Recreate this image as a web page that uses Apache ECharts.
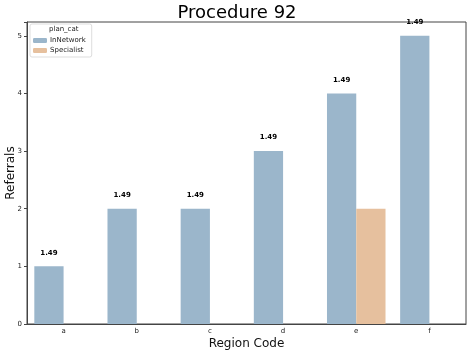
<!DOCTYPE html>
<html>
<head>
<meta charset="utf-8">
<script src="https://cdn.jsdelivr.net/npm/echarts@6/dist/echarts.min.js"></script>
<style>
  html, body { margin: 0; padding: 0; background: #fff; }
  #chart { width: 474px; height: 353px; }
</style>
</head>
<body>
<div id="chart"></div>
<script>
// data
var regions = ["a", "b", "c", "d", "e", "f"];
var inNetwork = [1, 2, 2, 3, 4, 5];
var specialist = [null, null, null, null, 2, null];
var barLabels = ["1.49", "1.49", "1.49", "1.49", "1.49", "1.49"];
var yTicks = [0, 1, 2, 3, 4, 5];

var chart = echarts.init(document.getElementById("chart"));

var option = {
    animation: false,
    backgroundColor: "#fff",
    textStyle: { fontFamily: "DejaVu Sans" },
    title: [
        {
            text: "Procedure 92",
            left: "center",
            top: -1,
            textStyle: { fontSize: 18, fontWeight: "normal", color: "#000", fontFamily: "DejaVu Sans" }
        },
        {
            text: "plan_cat",
            left: 44,
            top: 21,
            textStyle: { fontSize: 7, fontWeight: "normal", color: "#222", fontFamily: "DejaVu Sans" }
        }
    ],
    legend: {
        orient: "vertical",
        left: 30,
        top: 24,
        padding: [13, 6, 3, 3],
        itemGap: 3,
        itemWidth: 14,
        itemHeight: 5,
        borderColor: "#ddd",
        borderWidth: 1,
        borderRadius: 2,
        backgroundColor: "rgba(255,255,255,0.8)",
        textStyle: { fontSize: 7, color: "#222", padding: [0, 0, 0, -2] },
        data: ["InNetwork", "Specialist"]
    },
    grid: {
        left: 27,
        right: 8,
        top: 22,
        bottom: 29,
        outerBoundsMode: "none",
        containLabel: false,
        show: true,
        borderColor: "#444",
        borderWidth: 1
    },
    xAxis: {
        type: "category",
        data: regions,
        name: "Region Code",
        nameLocation: "middle",
        nameGap: 14,
        nameMoveOverlap: false,
        nameTextStyle: { fontSize: 12, color: "#111" },
        axisLine: { lineStyle: { color: "#444" } },
        axisTick: { alignWithLabel: true, length: 3, lineStyle: { color: "#444" } },
        axisLabel: { fontSize: 7, color: "#222", margin: 4 }
    },
    yAxis: {
        type: "value",
        min: 0,
        max: 5.24,
        interval: 1,
        name: "Referrals",
        nameLocation: "middle",
        nameGap: 10,
        nameMoveOverlap: false,
        nameTextStyle: { fontSize: 12, color: "#111" },
        splitLine: { show: false },
        axisLine: { show: true, lineStyle: { color: "#444" } },
        axisTick: { show: true, length: 3, lineStyle: { color: "#444" } },
        axisLabel: {
            fontSize: 7, color: "#222", margin: 5,
            formatter: function (v) { return yTicks.indexOf(v) >= 0 ? String(v) : ""; }
        }
    },
    series: [
        {
            name: "InNetwork",
            type: "bar",
            data: inNetwork,
            barGap: "0%",
            barCategoryGap: "20%",
            itemStyle: { color: "#9bb6cb" },
            label: {
                show: true,
                position: "top",
                distance: 10,
                fontSize: 7,
                fontWeight: "bold",
                color: "#000",
                formatter: function (p) { return barLabels[p.dataIndex]; }
            }
        },
        {
            name: "Specialist",
            type: "bar",
            data: specialist,
            barGap: "0%",
            barCategoryGap: "20%",
            itemStyle: { color: "#e6c09e" }
        }
    ]
};

chart.setOption(option);
</script>
</body>
</html>
